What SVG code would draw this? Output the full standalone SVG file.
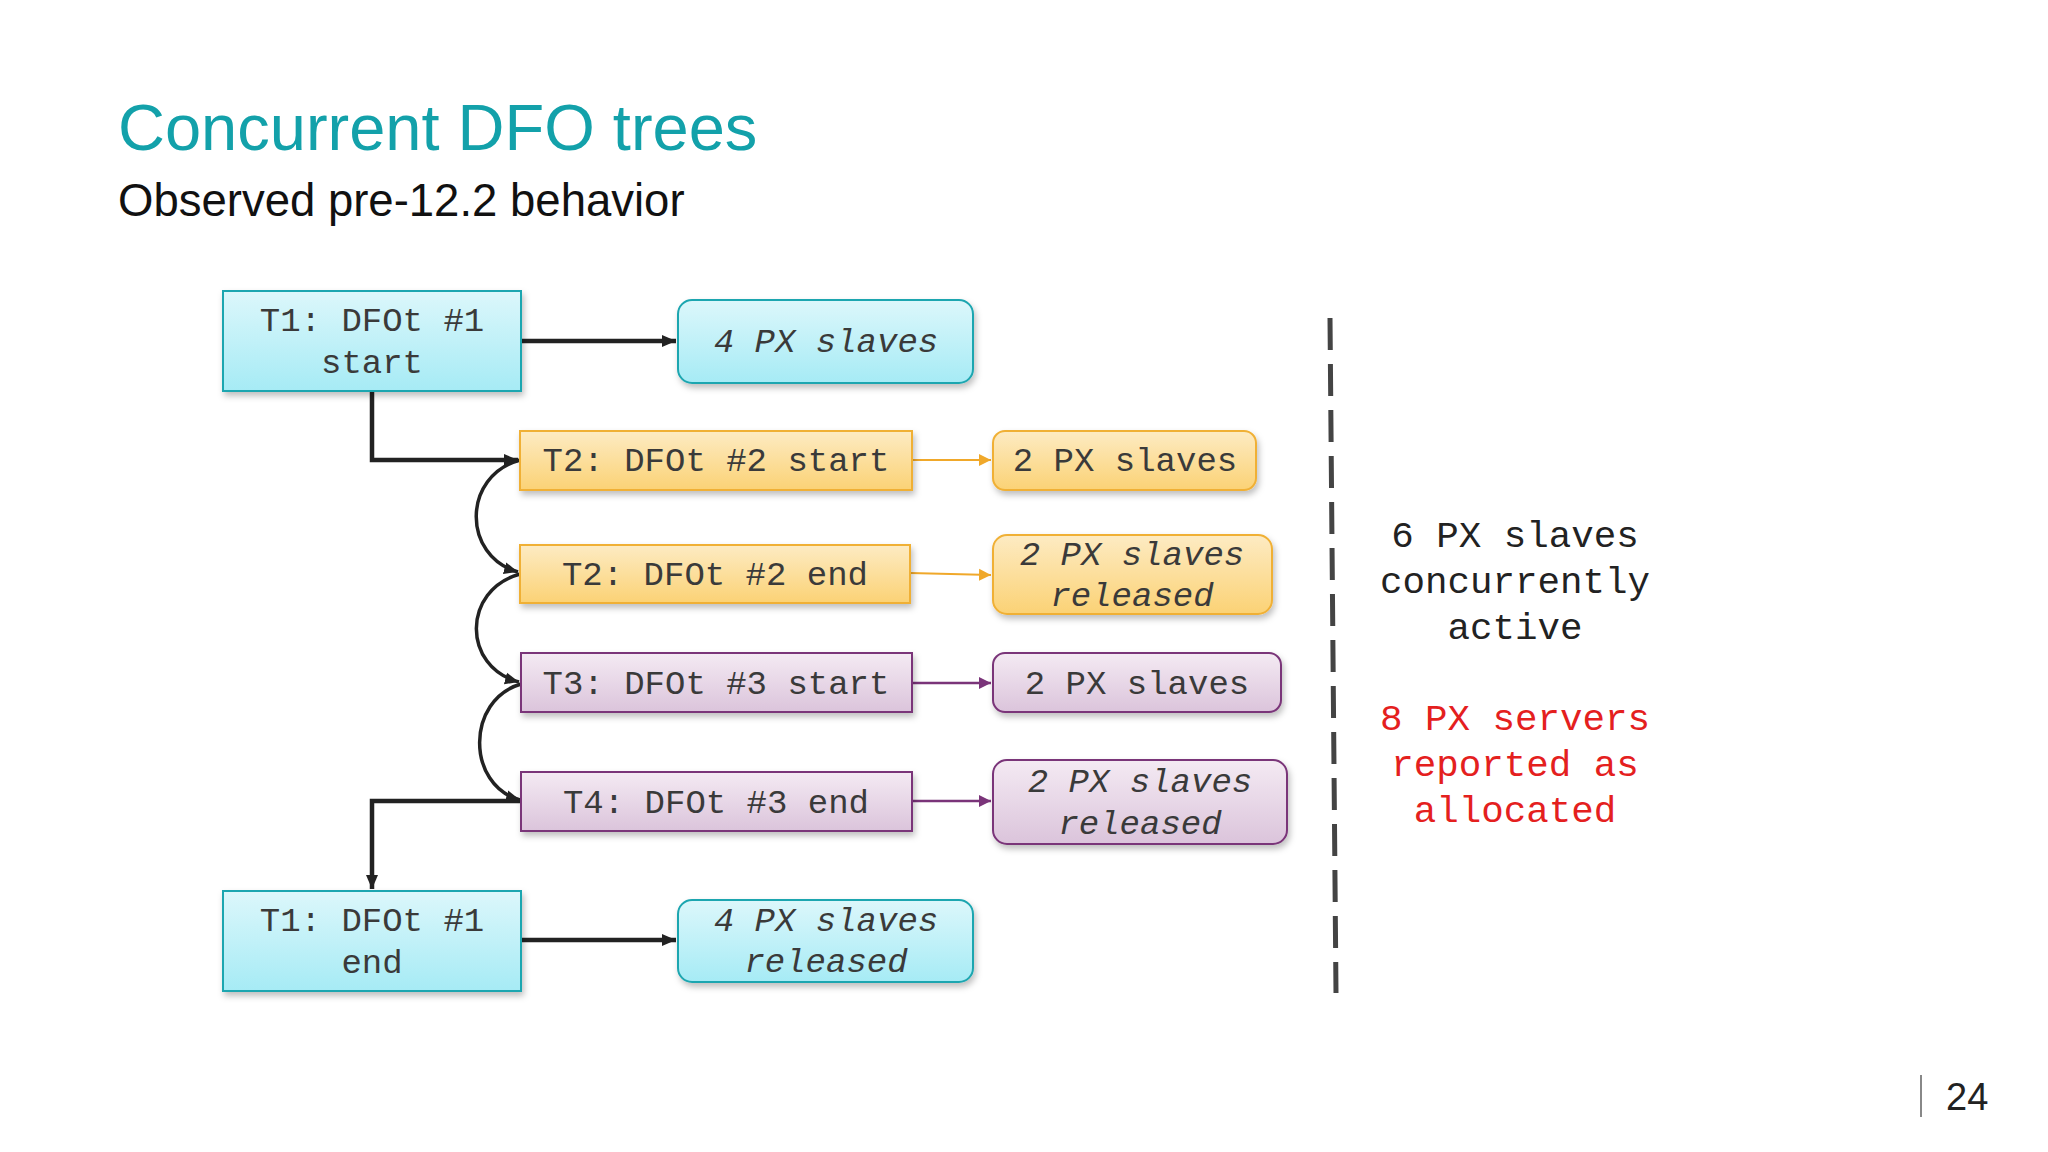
<svg xmlns="http://www.w3.org/2000/svg" width="2048" height="1152" viewBox="0 0 2048 1152">
  <defs>
    <linearGradient id="gCyan" x1="0" y1="0" x2="0" y2="1">
      <stop offset="0" stop-color="#dcf7fb"/>
      <stop offset="1" stop-color="#a6ebf5"/>
    </linearGradient>
    <linearGradient id="gOrange" x1="0" y1="0" x2="0" y2="1">
      <stop offset="0" stop-color="#fdebc3"/>
      <stop offset="1" stop-color="#fbd275"/>
    </linearGradient>
    <linearGradient id="gPurple" x1="0" y1="0" x2="0" y2="1">
      <stop offset="0" stop-color="#f4eaf3"/>
      <stop offset="1" stop-color="#dbc4db"/>
    </linearGradient>
    <filter id="shadow" x="-10%" y="-10%" width="125%" height="140%">
      <feDropShadow dx="2" dy="4" stdDeviation="3" flood-color="#000" flood-opacity="0.25"/>
    </filter>
    <marker id="arrBlack" markerUnits="userSpaceOnUse" markerWidth="16" markerHeight="16" refX="14" refY="8" orient="auto">
      <path d="M0,2 L14,8 L0,14 Z" fill="#222"/>
    </marker>
    <marker id="arrOrange" markerUnits="userSpaceOnUse" markerWidth="14" markerHeight="14" refX="12" refY="7" orient="auto">
      <path d="M0,1 L12,7 L0,13 Z" fill="#f0a82a"/>
    </marker>
    <marker id="arrPurple" markerUnits="userSpaceOnUse" markerWidth="14" markerHeight="14" refX="12" refY="7" orient="auto">
      <path d="M0,1 L12,7 L0,13 Z" fill="#7a3479"/>
    </marker>
  </defs>
  <style>
    .title { font-family: "Liberation Sans", Arial, sans-serif; font-size: 65px; fill: #13a1aa; }
    .sub { font-family: "Liberation Sans", Arial, sans-serif; font-size: 45.5px; fill: #111; }
    .nt { font-family: "Liberation Mono", "Courier New", monospace; font-size: 34px; fill: #3a3a3a; text-anchor: middle; }
    .it { font-style: italic; }
    .cyan { fill: url(#gCyan); stroke: #1fa6b0; stroke-width: 2; filter: url(#shadow); }
    .orange { fill: url(#gOrange); stroke: #f0b036; stroke-width: 2; filter: url(#shadow); }
    .purple { fill: url(#gPurple); stroke: #7a3479; stroke-width: 2; filter: url(#shadow); }
    .cb { fill: none; stroke: #222; stroke-width: 4.5; }
    .co { fill: none; stroke: #f0a82a; stroke-width: 2; }
    .cp { fill: none; stroke: #7a3479; stroke-width: 2.5; }
    .side { font-family: "Liberation Mono", "Courier New", monospace; font-size: 37.5px; text-anchor: middle; }
  </style>
  <rect width="2048" height="1152" fill="#ffffff"/>

  <text class="title" x="118" y="150">Concurrent DFO trees</text>
  <text class="sub" x="118" y="216">Observed pre-12.2 behavior</text>

  <g id="connectors">
    <path class="cb" d="M521,341 L676,341" marker-end="url(#arrBlack)"/>
    <path class="cb" d="M372,391 L372,460 L518,460" marker-end="url(#arrBlack)"/>
    <path class="co" d="M912,460 L991,460" marker-end="url(#arrOrange)"/>
    <path class="co" d="M910,573 L991,575" marker-end="url(#arrOrange)"/>
    <path class="cp" d="M912,683 L991,683" marker-end="url(#arrPurple)"/>
    <path class="cp" d="M912,801 L991,801" marker-end="url(#arrPurple)"/>
    <path class="cb" style="stroke-width:3.5" d="M520,460 C462,476 462,556 518,572" marker-end="url(#arrBlack)"/>
    <path class="cb" style="stroke-width:3.5" d="M520,574 C462,590 462,667 519,682" marker-end="url(#arrBlack)"/>
    <path class="cb" style="stroke-width:3.5" d="M521,684 C466,700 466,785 520,800" marker-end="url(#arrBlack)"/>
    <path class="cb" d="M521,801 L372,801 L372,889" marker-end="url(#arrBlack)"/>
    <path class="cb" d="M521,940 L676,940" marker-end="url(#arrBlack)"/>
    <line x1="1330" y1="318" x2="1336" y2="993" stroke="#444" stroke-width="5" stroke-dasharray="32 14"/>
  </g>

  <g id="t1start">
    <rect class="cyan" x="223" y="291" width="298" height="100"/>
    <text class="nt" x="372" y="331">T1: DFOt #1</text>
    <text class="nt" x="372" y="373">start</text>
  </g>
  <g id="px4">
    <rect class="cyan" x="678" y="300" width="295" height="83" rx="14"/>
    <text class="nt it" x="826" y="352">4 PX slaves</text>
  </g>
  <g id="t2start">
    <rect class="orange" x="520" y="431" width="392" height="59"/>
    <text class="nt" x="716" y="471">T2: DFOt #2 start</text>
  </g>
  <g id="px2a">
    <rect class="orange" x="993" y="431" width="263" height="59" rx="12"/>
    <text class="nt" x="1125" y="471">2 PX slaves</text>
  </g>
  <g id="t2end">
    <rect class="orange" x="520" y="545" width="390" height="58"/>
    <text class="nt" x="715" y="585">T2: DFOt #2 end</text>
  </g>
  <g id="px2arel">
    <rect class="orange" x="993" y="535" width="279" height="79" rx="14"/>
    <text class="nt it" x="1132" y="565">2 PX slaves</text>
    <text class="nt it" x="1132" y="606">released</text>
  </g>
  <g id="t3start">
    <rect class="purple" x="521" y="653" width="391" height="59"/>
    <text class="nt" x="716" y="694">T3: DFOt #3 start</text>
  </g>
  <g id="px2b">
    <rect class="purple" x="993" y="653" width="288" height="59" rx="12"/>
    <text class="nt" x="1137" y="694">2 PX slaves</text>
  </g>
  <g id="t4end">
    <rect class="purple" x="521" y="772" width="391" height="59"/>
    <text class="nt" x="716" y="813">T4: DFOt #3 end</text>
  </g>
  <g id="px2brel">
    <rect class="purple" x="993" y="760" width="294" height="84" rx="14"/>
    <text class="nt it" x="1140" y="792">2 PX slaves</text>
    <text class="nt it" x="1140" y="834">released</text>
  </g>
  <g id="t1end">
    <rect class="cyan" x="223" y="891" width="298" height="100"/>
    <text class="nt" x="372" y="931">T1: DFOt #1</text>
    <text class="nt" x="372" y="973">end</text>
  </g>
  <g id="px4rel">
    <rect class="cyan" x="678" y="900" width="295" height="82" rx="14"/>
    <text class="nt it" x="826" y="931">4 PX slaves</text>
    <text class="nt it" x="826" y="972">released</text>
  </g>

  <g id="notes">
    <text class="side" fill="#222" x="1515" y="547">6 PX slaves</text>
    <text class="side" fill="#222" x="1515" y="593">concurrently</text>
    <text class="side" fill="#222" x="1515" y="639">active</text>
    <text class="side" fill="#e4201e" x="1515" y="730">8 PX servers</text>
    <text class="side" fill="#e4201e" x="1515" y="776">reported as</text>
    <text class="side" fill="#e4201e" x="1515" y="822">allocated</text>
  </g>

  <g id="footer">
    <line x1="1921" y1="1075" x2="1921" y2="1117" stroke="#888" stroke-width="2"/>
    <text x="1946" y="1110" font-family="Liberation Sans, Arial, sans-serif" font-size="38" fill="#222">24</text>
  </g>
</svg>
